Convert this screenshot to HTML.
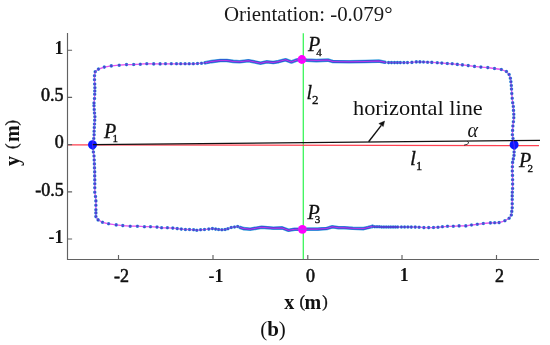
<!DOCTYPE html>
<html><head><meta charset="utf-8"><title>Orientation plot</title>
<style>html,body{margin:0;padding:0;background:#fff;}svg{display:block;}</style>
</head><body>
<svg width="550" height="345" viewBox="0 0 550 345">
<rect width="550" height="345" fill="#fff"/>
<!-- title -->
<text x="224" y="21.3" font-family="'Liberation Serif', 'DejaVu Serif', serif" font-size="21" fill="#1a1a1a" textLength="168.5" lengthAdjust="spacingAndGlyphs">Orientation: -0.079°</text>
<!-- reference lines -->
<line x1="303.3" y1="33.2" x2="303.3" y2="259" stroke="#3cf55a" stroke-width="1.3"/>
<line x1="67.5" y1="144.9" x2="539" y2="145.6" stroke="#ff4050" stroke-width="1.2"/>
<!-- trajectory -->
<path d="M92.5 144.7 L93.8 138.5 L94.1 134.8 L94.1 131.2 L94.3 127.6 L94.5 124 L94.7 120.3 L94.9 116.7 L94.5 113.1 L94.2 109.5 L94 105.8 L94 103 L94.5 98.6 L94.7 94.3 L94.8 91 L94.9 87.7 L94.7 84.1 L94.5 79.7 L94.5 75.8 L95.2 71.7 L98.5 69.1 L104.3 67.1 L111.3 65.9 L119.2 65.2 L126.5 64.6 L133.7 64.5 L140.3 64.2 L146.8 63.7 L153.7 63.9 L160.1 63.9 L165.5 63.8 L171.3 63.8 L176.5 63.8 L180.7 63.8 L185.1 63.8 L189.2 63.8 L193.3 63.8 L197.5 63.5 L201.5 63.2 L205.2 62.8 L211.5 61.6 L220.4 60.5 L226.8 60.5 L233.2 61.4 L239.5 61.8 L248.4 60.7 L256 62.2 L260.5 63.2 L266.8 61.8 L273.2 62.5 L278.6 61.6 L285.5 59.8 L291.4 62 L296.8 60 L302 59.5 L306.5 60.1 L316.4 60.6 L327.8 60.1 L332.7 61.5 L349 61.8 L365.5 61.5 L378.6 61.1 L385 62.3 L388.6 62.6 L391.5 62.6 L394.5 62.6 L397.4 62.6 L400.3 62.6 L403.9 62.6 L407.5 62.6 L411.9 62.4 L416.3 61.9 L419.9 61.9 L423.5 62 L427.6 62.2 L431.8 62.4 L437.3 62.7 L441.8 63.1 L447.3 63.5 L452.2 63.8 L457.3 64.4 L462.4 64.9 L468.2 65.6 L474.5 66.4 L480.9 67.1 L487.8 67.6 L494.5 68.5 L501.3 69.5 L506.4 71.5 L509.1 74.5 L510.4 78.2 L510.9 81.8 L511.3 85.5 L511.5 89.1 L511.8 93.6 L512.2 98.2 L512.7 102.7 L513.3 106.5 L513.5 110.4 L513.8 114.2 L513.8 117.8 L513.4 121.8 L512.9 126 L512.6 130.4 L512.4 134.8 L513 138.5 L514.1 144.7 L514.3 148.5 L514.1 152 L514 155.4 L513.3 158.9 L512.6 162.4 L512.4 166.7 L512.3 171 L512.5 175.4 L512.6 179.8 L512.6 184.1 L512.6 188.5 L512.3 192.3 L512.2 195.9 L512.2 199.5 L512.2 203.7 L512.2 207.7 L511.8 211.4 L511.3 215 L509.1 218.3 L504.9 220.8 L499.1 222.6 L494.7 222.8 L490.4 222.9 L483.3 223.5 L477.3 224.3 L471.5 225 L465.8 225.9 L459.1 225.9 L453.3 226.3 L447.5 226.3 L442.4 226.8 L438 227.3 L433.5 227.5 L428.7 227.6 L423.9 227.6 L419.1 227.2 L415.2 227.1 L411.3 227.1 L407.9 227 L404.6 227 L401.4 227 L397.7 227 L395.4 227 L393.1 227 L390.8 227 L388.5 227 L386.2 227 L383.9 227 L381.6 227 L379.3 226.7 L377 226.7 L374.7 226.7 L372.4 226.4 L368 227.6 L363.7 228.6 L352.7 228.3 L344 227.7 L338.6 227.7 L332.3 226.8 L326.8 228.5 L317.7 229.1 L308.6 229.1 L302.4 229.3 L294.8 229.2 L288.4 230.3 L282.1 227.9 L273.2 228.2 L261.7 227.2 L250.3 229.2 L243.5 228.6 L240.2 227.5 L237.7 226.5 L234.5 227 L231.2 227.5 L227.9 228.8 L225.1 229.5 L221.9 229.8 L218.6 229.5 L215.6 229.1 L212.4 228.6 L208.8 229.1 L204.5 229.5 L200.6 229.8 L196.8 230.3 L193.6 229.8 L189.5 229.5 L185.4 229.5 L181.3 229.1 L177.2 228.6 L172.8 228.1 L167.4 227.8 L161.6 227.8 L157 227.1 L150.5 226.7 L144.4 226.7 L137.4 226.2 L130.2 226.2 L122.8 225.6 L116.2 224.9 L108.6 223.8 L102.5 222.3 L98.1 219.9 L95.9 216.6 L95.9 212.9 L95.9 209.7 L95.9 205.3 L95.9 200.9 L95.5 196.6 L94.8 192.2 L94.8 187.8 L94.8 183.8 L94.8 179.9 L94.7 175.9 L94.7 171.9 L94.5 167.9 L94.4 163.9 L94.2 160 L94 156 L93.4 152 L93 148.5 L92.5 144.7" fill="none" stroke="#f060f0" stroke-width="1.3" stroke-linejoin="round"/>
<path d="M205.2 62.8 L211.5 61.6 L220.4 60.5 L226.8 60.5 L233.2 61.4 L239.5 61.8 L248.4 60.7 L256 62.2 L260.5 63.2 L266.8 61.8 L273.2 62.5 L278.6 61.6 L285.5 59.8 L291.4 62 L296.8 60 L302 59.5 L306.5 60.1 L316.4 60.6 L327.8 60.1 L332.7 61.5 L349 61.8 L365.5 61.5 L378.6 61.1 L385 62.3 M372.4 226.4 L368 227.6 L363.7 228.6 L352.7 228.3 L344 227.7 L338.6 227.7 L332.3 226.8 L326.8 228.5 L317.7 229.1 L308.6 229.1 L302.4 229.3 L294.8 229.2 L288.4 230.3 L282.1 227.9 L273.2 228.2 L261.7 227.2 L250.3 229.2 L243.5 228.6 L240.2 227.5" fill="none" stroke="#42a6df" stroke-width="3.6" stroke-linejoin="round" stroke-linecap="round"/>
<path d="M205.2 62.8 L211.5 61.6 L220.4 60.5 L226.8 60.5 L233.2 61.4 L239.5 61.8 L248.4 60.7 L256 62.2 L260.5 63.2 L266.8 61.8 L273.2 62.5 L278.6 61.6 L285.5 59.8 L291.4 62 L296.8 60 L302 59.5 L306.5 60.1 L316.4 60.6 L327.8 60.1 L332.7 61.5 L349 61.8 L365.5 61.5 L378.6 61.1 L385 62.3 M372.4 226.4 L368 227.6 L363.7 228.6 L352.7 228.3 L344 227.7 L338.6 227.7 L332.3 226.8 L326.8 228.5 L317.7 229.1 L308.6 229.1 L302.4 229.3 L294.8 229.2 L288.4 230.3 L282.1 227.9 L273.2 228.2 L261.7 227.2 L250.3 229.2 L243.5 228.6 L240.2 227.5" fill="none" stroke="#2844d0" stroke-width="2.3" stroke-linejoin="round" stroke-linecap="round"/>
<path d="M92.5 144.7h0M93.8 138.5h0M94.1 134.8h0M94.1 131.2h0M94.3 127.6h0M94.5 124h0M94.7 120.3h0M94.9 116.7h0M94.5 113.1h0M94.2 109.5h0M94 105.8h0M94 103h0M94.5 98.6h0M94.7 94.3h0M94.8 91h0M94.9 87.7h0M94.7 84.1h0M94.5 79.7h0M94.5 75.8h0M95.2 71.7h0M98.5 69.1h0M104.3 67.1h0M111.3 65.9h0M119.2 65.2h0M126.5 64.6h0M133.7 64.5h0M140.3 64.2h0M146.8 63.7h0M153.7 63.9h0M160.1 63.9h0M165.5 63.8h0M171.3 63.8h0M176.5 63.8h0M180.7 63.8h0M185.1 63.8h0M189.2 63.8h0M193.3 63.8h0M197.5 63.5h0M201.5 63.2h0M205.2 62.8h0M388.6 62.6h0M391.5 62.6h0M394.5 62.6h0M397.4 62.6h0M400.3 62.6h0M403.9 62.6h0M407.5 62.6h0M411.9 62.4h0M416.3 61.9h0M419.9 61.9h0M423.5 62h0M427.6 62.2h0M431.8 62.4h0M437.3 62.7h0M441.8 63.1h0M447.3 63.5h0M452.2 63.8h0M457.3 64.4h0M462.4 64.9h0M468.2 65.6h0M474.5 66.4h0M480.9 67.1h0M487.8 67.6h0M494.5 68.5h0M501.3 69.5h0M506.4 71.5h0M509.1 74.5h0M510.4 78.2h0M510.9 81.8h0M511.3 85.5h0M511.5 89.1h0M511.8 93.6h0M512.2 98.2h0M512.7 102.7h0M513.3 106.5h0M513.5 110.4h0M513.8 114.2h0M513.8 117.8h0M513.4 121.8h0M512.9 126h0M512.6 130.4h0M512.4 134.8h0M513 138.5h0M514.1 144.7h0M514.3 148.5h0M514.1 152h0M514 155.4h0M513.3 158.9h0M512.6 162.4h0M512.4 166.7h0M512.3 171h0M512.5 175.4h0M512.6 179.8h0M512.6 184.1h0M512.6 188.5h0M512.3 192.3h0M512.2 195.9h0M512.2 199.5h0M512.2 203.7h0M512.2 207.7h0M511.8 211.4h0M511.3 215h0M509.1 218.3h0M504.9 220.8h0M499.1 222.6h0M494.7 222.8h0M490.4 222.9h0M483.3 223.5h0M477.3 224.3h0M471.5 225h0M465.8 225.9h0M459.1 225.9h0M453.3 226.3h0M447.5 226.3h0M442.4 226.8h0M438 227.3h0M433.5 227.5h0M428.7 227.6h0M423.9 227.6h0M419.1 227.2h0M415.2 227.1h0M411.3 227.1h0M407.9 227h0M404.6 227h0M401.4 227h0M397.7 227h0M395.4 227h0M393.1 227h0M390.8 227h0M388.5 227h0M386.2 227h0M383.9 227h0M381.6 227h0M379.3 226.7h0M377 226.7h0M374.7 226.7h0M372.4 226.4h0M237.7 226.5h0M234.5 227h0M231.2 227.5h0M227.9 228.8h0M225.1 229.5h0M221.9 229.8h0M218.6 229.5h0M215.6 229.1h0M212.4 228.6h0M208.8 229.1h0M204.5 229.5h0M200.6 229.8h0M196.8 230.3h0M193.6 229.8h0M189.5 229.5h0M185.4 229.5h0M181.3 229.1h0M177.2 228.6h0M172.8 228.1h0M167.4 227.8h0M161.6 227.8h0M157 227.1h0M150.5 226.7h0M144.4 226.7h0M137.4 226.2h0M130.2 226.2h0M122.8 225.6h0M116.2 224.9h0M108.6 223.8h0M102.5 222.3h0M98.1 219.9h0M95.9 216.6h0M95.9 212.9h0M95.9 209.7h0M95.9 205.3h0M95.9 200.9h0M95.5 196.6h0M94.8 192.2h0M94.8 187.8h0M94.8 183.8h0M94.8 179.9h0M94.7 175.9h0M94.7 171.9h0M94.5 167.9h0M94.4 163.9h0M94.2 160h0M94 156h0M93.4 152h0M93 148.5h0M92.5 144.7h0" fill="none" stroke="#50abe2" stroke-width="3.6" stroke-linecap="round"/>
<path d="M92.5 144.7h0M93.8 138.5h0M94.1 134.8h0M94.1 131.2h0M94.3 127.6h0M94.5 124h0M94.7 120.3h0M94.9 116.7h0M94.5 113.1h0M94.2 109.5h0M94 105.8h0M94 103h0M94.5 98.6h0M94.7 94.3h0M94.8 91h0M94.9 87.7h0M94.7 84.1h0M94.5 79.7h0M94.5 75.8h0M95.2 71.7h0M98.5 69.1h0M104.3 67.1h0M111.3 65.9h0M119.2 65.2h0M126.5 64.6h0M133.7 64.5h0M140.3 64.2h0M146.8 63.7h0M153.7 63.9h0M160.1 63.9h0M165.5 63.8h0M171.3 63.8h0M176.5 63.8h0M180.7 63.8h0M185.1 63.8h0M189.2 63.8h0M193.3 63.8h0M197.5 63.5h0M201.5 63.2h0M205.2 62.8h0M388.6 62.6h0M391.5 62.6h0M394.5 62.6h0M397.4 62.6h0M400.3 62.6h0M403.9 62.6h0M407.5 62.6h0M411.9 62.4h0M416.3 61.9h0M419.9 61.9h0M423.5 62h0M427.6 62.2h0M431.8 62.4h0M437.3 62.7h0M441.8 63.1h0M447.3 63.5h0M452.2 63.8h0M457.3 64.4h0M462.4 64.9h0M468.2 65.6h0M474.5 66.4h0M480.9 67.1h0M487.8 67.6h0M494.5 68.5h0M501.3 69.5h0M506.4 71.5h0M509.1 74.5h0M510.4 78.2h0M510.9 81.8h0M511.3 85.5h0M511.5 89.1h0M511.8 93.6h0M512.2 98.2h0M512.7 102.7h0M513.3 106.5h0M513.5 110.4h0M513.8 114.2h0M513.8 117.8h0M513.4 121.8h0M512.9 126h0M512.6 130.4h0M512.4 134.8h0M513 138.5h0M514.1 144.7h0M514.3 148.5h0M514.1 152h0M514 155.4h0M513.3 158.9h0M512.6 162.4h0M512.4 166.7h0M512.3 171h0M512.5 175.4h0M512.6 179.8h0M512.6 184.1h0M512.6 188.5h0M512.3 192.3h0M512.2 195.9h0M512.2 199.5h0M512.2 203.7h0M512.2 207.7h0M511.8 211.4h0M511.3 215h0M509.1 218.3h0M504.9 220.8h0M499.1 222.6h0M494.7 222.8h0M490.4 222.9h0M483.3 223.5h0M477.3 224.3h0M471.5 225h0M465.8 225.9h0M459.1 225.9h0M453.3 226.3h0M447.5 226.3h0M442.4 226.8h0M438 227.3h0M433.5 227.5h0M428.7 227.6h0M423.9 227.6h0M419.1 227.2h0M415.2 227.1h0M411.3 227.1h0M407.9 227h0M404.6 227h0M401.4 227h0M397.7 227h0M395.4 227h0M393.1 227h0M390.8 227h0M388.5 227h0M386.2 227h0M383.9 227h0M381.6 227h0M379.3 226.7h0M377 226.7h0M374.7 226.7h0M372.4 226.4h0M237.7 226.5h0M234.5 227h0M231.2 227.5h0M227.9 228.8h0M225.1 229.5h0M221.9 229.8h0M218.6 229.5h0M215.6 229.1h0M212.4 228.6h0M208.8 229.1h0M204.5 229.5h0M200.6 229.8h0M196.8 230.3h0M193.6 229.8h0M189.5 229.5h0M185.4 229.5h0M181.3 229.1h0M177.2 228.6h0M172.8 228.1h0M167.4 227.8h0M161.6 227.8h0M157 227.1h0M150.5 226.7h0M144.4 226.7h0M137.4 226.2h0M130.2 226.2h0M122.8 225.6h0M116.2 224.9h0M108.6 223.8h0M102.5 222.3h0M98.1 219.9h0M95.9 216.6h0M95.9 212.9h0M95.9 209.7h0M95.9 205.3h0M95.9 200.9h0M95.5 196.6h0M94.8 192.2h0M94.8 187.8h0M94.8 183.8h0M94.8 179.9h0M94.7 175.9h0M94.7 171.9h0M94.5 167.9h0M94.4 163.9h0M94.2 160h0M94 156h0M93.4 152h0M93 148.5h0M92.5 144.7h0" fill="none" stroke="#2a42cc" stroke-width="2.6" stroke-linecap="round"/>
<!-- key points -->
<circle cx="92.5" cy="144.7" r="4.5" fill="#0a18ff"/>
<circle cx="514.1" cy="144.7" r="4.5" fill="#0a18ff"/>
<circle cx="302.4" cy="229.3" r="4.4" fill="#ff00ff"/>
<circle cx="301.9" cy="59.5" r="4.4" fill="#ff00ff"/>
<line x1="92.5" y1="144.6" x2="540" y2="140.3" stroke="#111" stroke-width="1.3"/>
<path d="M205.2 62.8 L211.5 61.6 L220.4 60.5 L226.8 60.5 L233.2 61.4 L239.5 61.8 L248.4 60.7 L256 62.2 L260.5 63.2 L266.8 61.8 L273.2 62.5 L278.6 61.6 L285.5 59.8 L291.4 62 L296.8 60 L302 59.5 L306.5 60.1 L316.4 60.6 L327.8 60.1 L332.7 61.5 L349 61.8 L365.5 61.5 L378.6 61.1 L385 62.3 M372.4 226.4 L368 227.6 L363.7 228.6 L352.7 228.3 L344 227.7 L338.6 227.7 L332.3 226.8 L326.8 228.5 L317.7 229.1 L308.6 229.1 L302.4 229.3 L294.8 229.2 L288.4 230.3 L282.1 227.9 L273.2 228.2 L261.7 227.2 L250.3 229.2 L243.5 228.6 L240.2 227.5" fill="none" stroke="#a534e6" stroke-width="1.05" stroke-linejoin="round"/>
<path d="M92.5 144.7 L93.8 138.5 L94.1 134.8 L94.1 131.2 L94.3 127.6 L94.5 124 L94.7 120.3 L94.9 116.7 L94.5 113.1 L94.2 109.5 L94 105.8 L94 103 L94.5 98.6 L94.7 94.3 L94.8 91 L94.9 87.7 L94.7 84.1 L94.5 79.7 L94.5 75.8 L95.2 71.7 L98.5 69.1 L104.3 67.1 L111.3 65.9 L119.2 65.2 L126.5 64.6 L133.7 64.5 L140.3 64.2 L146.8 63.7 L153.7 63.9 L160.1 63.9 L165.5 63.8 L171.3 63.8 L176.5 63.8 L180.7 63.8 L185.1 63.8 L189.2 63.8 L193.3 63.8 L197.5 63.5 L201.5 63.2 L205.2 62.8 L211.5 61.6 L220.4 60.5 L226.8 60.5 L233.2 61.4 L239.5 61.8 L248.4 60.7 L256 62.2 L260.5 63.2 L266.8 61.8 L273.2 62.5 L278.6 61.6 L285.5 59.8 L291.4 62 L296.8 60 L302 59.5 L306.5 60.1 L316.4 60.6 L327.8 60.1 L332.7 61.5 L349 61.8 L365.5 61.5 L378.6 61.1 L385 62.3 L388.6 62.6 L391.5 62.6 L394.5 62.6 L397.4 62.6 L400.3 62.6 L403.9 62.6 L407.5 62.6 L411.9 62.4 L416.3 61.9 L419.9 61.9 L423.5 62 L427.6 62.2 L431.8 62.4 L437.3 62.7 L441.8 63.1 L447.3 63.5 L452.2 63.8 L457.3 64.4 L462.4 64.9 L468.2 65.6 L474.5 66.4 L480.9 67.1 L487.8 67.6 L494.5 68.5 L501.3 69.5 L506.4 71.5 L509.1 74.5 L510.4 78.2 L510.9 81.8 L511.3 85.5 L511.5 89.1 L511.8 93.6 L512.2 98.2 L512.7 102.7 L513.3 106.5 L513.5 110.4 L513.8 114.2 L513.8 117.8 L513.4 121.8 L512.9 126 L512.6 130.4 L512.4 134.8 L513 138.5 L514.1 144.7 L514.3 148.5 L514.1 152 L514 155.4 L513.3 158.9 L512.6 162.4 L512.4 166.7 L512.3 171 L512.5 175.4 L512.6 179.8 L512.6 184.1 L512.6 188.5 L512.3 192.3 L512.2 195.9 L512.2 199.5 L512.2 203.7 L512.2 207.7 L511.8 211.4 L511.3 215 L509.1 218.3 L504.9 220.8 L499.1 222.6 L494.7 222.8 L490.4 222.9 L483.3 223.5 L477.3 224.3 L471.5 225 L465.8 225.9 L459.1 225.9 L453.3 226.3 L447.5 226.3 L442.4 226.8 L438 227.3 L433.5 227.5 L428.7 227.6 L423.9 227.6 L419.1 227.2 L415.2 227.1 L411.3 227.1 L407.9 227 L404.6 227 L401.4 227 L397.7 227 L395.4 227 L393.1 227 L390.8 227 L388.5 227 L386.2 227 L383.9 227 L381.6 227 L379.3 226.7 L377 226.7 L374.7 226.7 L372.4 226.4 L368 227.6 L363.7 228.6 L352.7 228.3 L344 227.7 L338.6 227.7 L332.3 226.8 L326.8 228.5 L317.7 229.1 L308.6 229.1 L302.4 229.3 L294.8 229.2 L288.4 230.3 L282.1 227.9 L273.2 228.2 L261.7 227.2 L250.3 229.2 L243.5 228.6 L240.2 227.5 L237.7 226.5 L234.5 227 L231.2 227.5 L227.9 228.8 L225.1 229.5 L221.9 229.8 L218.6 229.5 L215.6 229.1 L212.4 228.6 L208.8 229.1 L204.5 229.5 L200.6 229.8 L196.8 230.3 L193.6 229.8 L189.5 229.5 L185.4 229.5 L181.3 229.1 L177.2 228.6 L172.8 228.1 L167.4 227.8 L161.6 227.8 L157 227.1 L150.5 226.7 L144.4 226.7 L137.4 226.2 L130.2 226.2 L122.8 225.6 L116.2 224.9 L108.6 223.8 L102.5 222.3 L98.1 219.9 L95.9 216.6 L95.9 212.9 L95.9 209.7 L95.9 205.3 L95.9 200.9 L95.5 196.6 L94.8 192.2 L94.8 187.8 L94.8 183.8 L94.8 179.9 L94.7 175.9 L94.7 171.9 L94.5 167.9 L94.4 163.9 L94.2 160 L94 156 L93.4 152 L93 148.5 L92.5 144.7" fill="none" stroke="#d040f0" stroke-width="1" stroke-linejoin="round" opacity="0.4"/>
<!-- axes -->
<g stroke="#626262" stroke-width="1.15" fill="none">
<path d="M67.5 33 V259.5 H539"/>
<path d="M67.5 50.2h4.6 M67.5 97.4h4.6 M67.5 144.6h4.6 M67.5 191.8h4.6 M67.5 239h4.6"/>
<path d="M118.5 259.5v-4.6 M213 259.5v-4.6 M307.8 259.5v-4.6 M402 259.5v-4.6 M496.5 259.5v-4.6"/>
</g>
<g font-family="'Liberation Serif', 'DejaVu Serif', serif" font-size="18" fill="#111" stroke="#111" stroke-width="0.55" text-anchor="end">
<text x="63.4" y="53.6" font-weight="bold" stroke-width="0">1</text>
<text x="63.6" y="101.1">0.5</text>
<text x="63.8" y="148.1">0</text>
<text x="63.8" y="195.5">-0.5</text>
<text x="63.4" y="242.6" font-weight="bold" stroke-width="0">-1</text>
</g>
<g font-family="'Liberation Serif', 'DejaVu Serif', serif" font-size="18" fill="#111" stroke="#111" stroke-width="0.55" text-anchor="middle">
<text x="121.5" y="281.5">-2</text>
<text x="215.9" y="281.5" font-weight="bold" stroke-width="0">-1</text>
<text x="310.6" y="281.7">0</text>
<text x="404.3" y="281.4" font-weight="bold" stroke-width="0">1</text>
<text x="499.4" y="281.6">2</text>
</g>
<g font-family="'Liberation Serif', 'DejaVu Serif', serif" fill="#111">
<text y="309.4" font-size="20" font-weight="bold"><tspan x="284.3">x</tspan><tspan x="304.6">m</tspan></text>
<text y="307.3" font-size="16.5" stroke="#111" stroke-width="0.35"><tspan x="299.6">(</tspan><tspan x="322.3">)</tspan></text>
<g transform="translate(19.4 165.6) rotate(-90)">
<text y="0" font-size="20" font-weight="bold"><tspan x="-0.3">y</tspan><tspan x="23.6">m</tspan></text>
<text y="-2.4" font-size="16.5" stroke="#111" stroke-width="0.35"><tspan x="16.6">(</tspan><tspan x="40.2">)</tspan></text>
</g>
</g>
<text x="273" y="335.5" text-anchor="middle" font-family="'Liberation Serif', 'DejaVu Serif', serif" font-size="21" fill="#111">(<tspan font-weight="bold">b</tspan>)</text>
<!-- annotations -->
<g font-family="'Liberation Serif', 'DejaVu Serif', serif" fill="#111">
<text x="353" y="115.2" font-size="21" textLength="129.8" lengthAdjust="spacingAndGlyphs">horizontal line</text>
<text x="104" y="137.5" font-size="20" font-style="italic" stroke="#111" stroke-width="0.3">P</text><text x="112.5" y="142.2" font-size="11" stroke="#111" stroke-width="0.35">1</text>
<text x="519" y="166.8" font-size="20" font-style="italic" stroke="#111" stroke-width="0.3">P</text><text x="527.5" y="171.6" font-size="11" stroke="#111" stroke-width="0.35">2</text>
<text x="307.6" y="218.9" font-size="20" font-style="italic" stroke="#111" stroke-width="0.3">P</text><text x="314.8" y="222.9" font-size="11" stroke="#111" stroke-width="0.35">3</text>
<text x="308" y="51.3" font-size="20" font-style="italic" stroke="#111" stroke-width="0.3">P</text><text x="316.3" y="56.1" font-size="11" stroke="#111" stroke-width="0.35">4</text>
<text x="306.5" y="99.4" font-size="20" font-style="italic" stroke="#111" stroke-width="0.3">l</text><text x="312" y="104.4" font-size="13" stroke="#111" stroke-width="0.35">2</text>
<text x="410" y="164.6" font-size="21.5" font-style="italic" stroke="#111" stroke-width="0.3">l</text><text x="416" y="170.4" font-size="12.5" stroke="#111" stroke-width="0.35">1</text>
<text x="467.5" y="136.8" font-size="20" font-style="italic">α</text>
</g>
<line x1="368.6" y1="141.8" x2="381.3" y2="125.4" stroke="#111" stroke-width="1.4"/>
<path d="M384.6 121.0 L378.8 123.6 L383.3 126.6 Z" fill="#111" stroke="#111" stroke-width="0.4" stroke-linejoin="round"/>
<path d="M464 145.2 Q467.6 144.6 468.6 143.2 Q468.6 141.8 467.2 141.3" fill="none" stroke="#222" stroke-width="0.9"/>
</svg>
</body></html>
